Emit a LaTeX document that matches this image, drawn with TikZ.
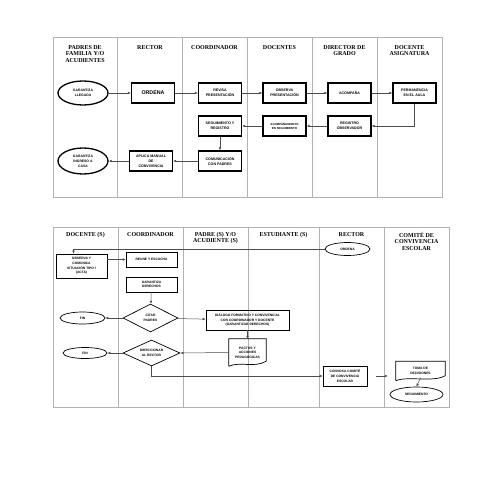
\documentclass[tikz,border=0pt]{standalone}
\usepackage{fontspec}
\setmainfont{Liberation Serif}
\newfontfamily\cajafont{Liberation Sans}
\usetikzlibrary{arrows.meta,shapes.geometric}

\tikzset{
  marco/.style={draw=black!30,line width=1pt},
  lane/.style={draw=black!30,line width=1pt},
  titulo/.style={anchor=north,align=center,font=\fontsize{6}{6.6}\selectfont\bfseries,inner sep=0pt},
  caja/.style={draw,line width=1.3pt,minimum width=43pt,minimum height=20pt,align=center,inner sep=1pt,
    font=\cajafont\fontsize{3.6}{5}\selectfont\bfseries},
  elipse/.style={draw,ellipse,line width=1.3pt,minimum width=50pt,minimum height=24pt,align=center,inner sep=0pt,
    font=\cajafont\fontsize{3.4}{5}\selectfont\bfseries},
  caja2/.style={draw,line width=0.7pt,align=center,inner sep=1pt,
    font=\cajafont\fontsize{3.3}{4.6}\selectfont\bfseries},
  elipse2/.style={draw,ellipse,line width=0.7pt,inner sep=0pt,
    font=\cajafont\fontsize{3.3}{4.6}\selectfont\bfseries},
  rombo/.style={draw,diamond,aspect=2,line width=0.7pt,inner sep=0pt,align=center,
    font=\cajafont\fontsize{3.3}{4.6}\selectfont\bfseries},
  docu/.style={align=center,inner sep=1pt,font=\cajafont\fontsize{3.3}{4.6}\selectfont\bfseries},
  flecha/.style={draw=black!70,line width=0.5pt,-{Latex[length=3pt,width=2.6pt]}}
}

% outline of a document box, wavy bottom
\newcommand{\docborde}[1]{%
  \draw[line width=0.7pt] (#1.south west) -- (#1.north west) -- (#1.north east)
    -- ([yshift=5pt]#1.south east) .. controls +(-12pt,-7pt) and +(12pt,5pt) .. (#1.south west);}

\begin{document}
\begin{tikzpicture}[x=1pt,y=-1pt]
  \useasboundingbox (0,0) rectangle (495,495);

  %% first chart: lanes
  \draw[marco] (53,38) rectangle (442,197);
  \foreach \x in {117.5,182,247,312,377}
    \draw[lane] (\x,38) -- (\x,197);
  \foreach \x/\texto in {85/{PADRES DE\\FAMILIA Y/O\\ACUDIENTES},150/RECTOR,214.5/COORDINADOR,
      279.5/DOCENTES,344.5/{DIRECTOR DE\\GRADO},409.5/{DOCENTE\\ASIGNATURA}}
    \node[titulo] at (\x,45) {\texto};

  % first row
  \node[elipse] (llegada) at (83,93) {GARANTIZA\\LLEGADA};
  \node[caja,font=\cajafont\fontsize{5.3}{6}\selectfont\bfseries] (ordena) at (153,93) {ORDENA};
  \node[caja] (revisa) at (220,93) {REVISA\\PRESENTACIÓN};
  \node[caja] (observa) at (284.5,93) {OBSERVA\\PRESENTACIÓN};
  \node[caja] (acompana) at (349.5,93) {ACOMPAÑA};
  \node[caja] (permanencia) at (414.5,93) {PERMANENCIA\\EN EL AULA};

  % second row
  \node[caja] (registro) at (349.5,126) {REGISTRO\\OBSERVADOR};
  \node[caja,font=\cajafont\fontsize{2.9}{4.4}\selectfont\bfseries] (acomp) at (284.5,126) {ACOMPAÑAMIENTO\\EN SEGUIMIENTO};
  \node[caja] (seguimiento) at (220,126) {SEGUIMIENTO Y\\REGISTRO};

  % third row
  \node[caja] (comunicacion) at (220,161) {COMUNICACIÓN\\CON PADRES};
  \node[caja] (aplica) at (151,161) {APLICA MANUAL\\DE\\CONVIVENCIA};
  \node[elipse,minimum height=26pt] (ingreso) at (83,161) {GARANTIZA\\INGRESO A\\CASA};

  \draw[flecha] (llegada) -- (ordena);
  \draw[flecha] (ordena) -- (revisa);
  \draw[flecha] (revisa) -- (observa);
  \draw[flecha] (observa) -- (acompana);
  \draw[flecha] (acompana) -- (permanencia);
  \draw[flecha] (permanencia.south) |- (registro.east);
  \draw[flecha] (registro) -- (acomp);
  \draw[flecha] (acomp) -- (seguimiento);
  \draw[flecha] (seguimiento) -- (comunicacion);
  \draw[flecha] (comunicacion) -- (aplica);
  \draw[flecha] (aplica) -- (ingreso);

  %% second chart: lanes
  \draw[marco] (53,227) rectangle (449,407);
  \foreach \x in {118,183,248,319,384}
    \draw[lane] (\x,227) -- (\x,407);
  \foreach \x/\texto in {85.5/DOCENTE (S),150.5/COORDINADOR,215.5/{PADRE (S) Y/O\\ACUDIENTE (S)},
      283.5/ESTUDIANTE (S),351.5/RECTOR,416.5/{COMITÉ DE\\CONVIVENCIA\\ESCOLAR}}
    \node[titulo] at (\x,232) {\texto};

  \node[elipse2,minimum width=45pt,minimum height=13pt] (ordenar) at (347.5,249) {ORDENA};
  \node[caja2,minimum width=51pt,minimum height=24pt] (situacion) at (81.5,266) {OBSERVA Y\\COMUNICA\\SITUACIÓN TIPO I\\(ACTA)};
  \node[caja2,minimum width=51pt,minimum height=15pt] (reune) at (151.5,259.5) {REUNE Y ESCUCHA};
  \node[caja2,minimum width=51pt,minimum height=15pt] (derechos) at (151.5,284.5) {GARANTIZA\\DERECHOS};
  \node[rombo,minimum width=55pt,minimum height=28pt] (citar) at (150.5,318) {CITAR\\PADRES};
  \node[elipse2,minimum width=45pt,minimum height=12pt] (fin1) at (82.5,318) {FIN};
  \node[rombo,minimum width=57pt,minimum height=26pt] (direccionar) at (151.5,353) {DIRECCIONAR\\AL RECTOR};
  \node[elipse2,minimum width=44pt,minimum height=11pt] (fin2) at (85,353) {FIN};
  \node[caja2,minimum width=83pt,minimum height=20pt] (dialogo) at (247.5,320) {DIÁLOGO FORMATIVO Y CONVIVENCIAL\\CON COORDINADOR Y DOCENTE\\(GARANTIZAR DERECHOS)};
  \node[docu,minimum width=37pt,minimum height=27pt] (pactos) at (247.5,352.5) {PACTOS Y\\ACCIONES\\PEDAGÓGICAS};
  \docborde{pactos}
  \node[caja2,minimum width=44pt,minimum height=20pt] (convoca) at (345,376) {CONVOCA COMITÉ\\DE CONVIVENCIA\\ESCOLAR};
  \node[docu,minimum width=49pt,minimum height=19pt] (toma) at (420.5,371) {TOMA DE\\DECISIONES};
  \docborde{toma}
  \node[elipse2,minimum width=53pt,minimum height=15pt] (seguim) at (416.5,394.5) {SEGUIMIENTO};

  \draw[flecha] (ordenar.west) -| ([xshift=-8pt]situacion.north);
  \draw[flecha] (reune.west -| situacion.east) -- (reune.west);
  \draw[flecha] (derechos) -- (citar);
  \draw[flecha] (citar) -- (fin1);
  \draw[flecha] (citar) -- (dialogo);
  \draw[flecha] (dialogo) -- (pactos);
  \draw[flecha] (pactos.west) -- (direccionar.east);
  \draw[flecha] (direccionar) -- (fin2);
  \draw[flecha] (direccionar.south) |- (convoca.west);
  \draw[flecha,shorten <=9pt,shorten >=8pt] (convoca.east) -- (convoca.east -| toma.west);
  \draw[flecha] ([yshift=3pt]toma.south) -- (seguim.north);
\end{tikzpicture}
\end{document}
